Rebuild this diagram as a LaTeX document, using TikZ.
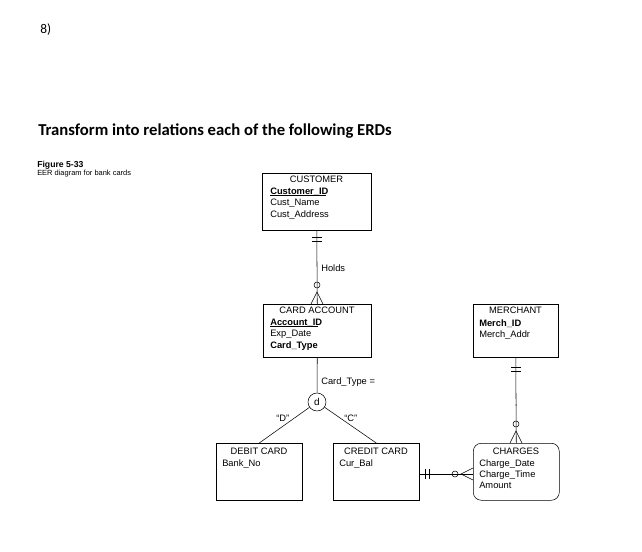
\documentclass[tikz,border=0pt]{standalone}
\usepackage{fontspec}
\setmainfont{Liberation Sans}
\newfontfamily\titlefont{Carlito}
\usetikzlibrary{positioning}
\tikzset{
  ent/.style={draw,thin,anchor=north west,inner sep=0pt},
  att/.style={anchor=north west,inner sep=0pt,font=\fontsize{7}{8.4}\selectfont,align=left},
  ttl/.style={anchor=north,inner sep=0pt,font=\fontsize{7}{8.4}\selectfont},
  rel/.style={thin},
}
\begin{document}
\begin{tikzpicture}[x=0.75pt,y=-0.75pt]
\useasboundingbox (0,0) rectangle (642,552);
% heading
\node[anchor=west,inner sep=0pt,font=\titlefont\fontsize{10}{12}\selectfont] (num) at (40,30) {8)};
\node[anchor=west,inner sep=0pt,font=\titlefont\bfseries\fontsize{12.5}{14}\selectfont] (task) at (38,131) {Transform into relations each of the following ERDs};
\node[anchor=north west,inner sep=0pt,font=\bfseries\fontsize{6.5}{7}\selectfont] (fig) at (37,161) {Figure 5-33};
\node[anchor=north west,inner sep=0pt,font=\fontsize{5.6}{7}\selectfont] (cap) at (37,170) {EER diagram for bank cards};
% entities
\node[ent,minimum width=81.75pt,minimum height=42.75pt] (cust) at (262,173) {};
\node[ttl] (custT) at (316.5,176) {CUSTOMER};
\node[att] (custA) at (270,188) {\textbf{Customer\_ID}\\Cust\_Name\\Cust\_Address};
\draw[thin] (270,195.5) -- (326,195.5);
\node[ent,minimum width=81pt,minimum height=39.75pt] (acct) at (263,304) {};
\node[ttl] (acctT) at (317,307) {CARD ACCOUNT};
\node[att] (acctA) at (270,319) {\textbf{Account\_ID}\\Exp\_Date\\\textbf{Card\_Type}};
\draw[thin] (270,326.5) -- (318,326.5);
\node[ent,minimum width=63.75pt,minimum height=39.75pt] (merch) at (473,304) {};
\node[ttl] (merchT) at (515.5,307) {MERCHANT};
\node[att] (merchA) at (479,319) {\textbf{Merch\_ID}\\Merch\_Addr};
\node[ent,minimum width=64.5pt,minimum height=42.75pt] (debit) at (216,443) {};
\node[ttl] (debitT) at (259,448) {DEBIT CARD};
\node[att] (debitA) at (222,459) {Bank\_No};
\node[ent,minimum width=64.5pt,minimum height=42.75pt] (credit) at (333,443) {};
\node[ttl] (creditT) at (376,448) {CREDIT CARD};
\node[att] (creditA) at (339,459) {Cur\_Bal};
\node[ent,rounded corners=6pt,minimum width=64.5pt,minimum height=42.75pt] (chg) at (473,443) {};
\node[ttl] (chgT) at (516,448) {CHARGES};
\node[att] (chgA) at (479,459) {Charge\_Date\\Charge\_Time\\Amount};
% disjoint subtype circle
\node[draw,circle,thin,minimum size=13.5pt,inner sep=0pt,font=\fontsize{7.5}{8}\selectfont] (d) at (317,402) {d};
% Holds
\draw[rel] (cust.south) -- (acct.north);
\draw[rel] (312,237) -- (322,237) (312,241) -- (322,241);
\draw[rel] (317,285) circle (3);
\draw[rel] (311,304) -- (317,292) -- (323,304);
\node[att] (holds) at (321,264) {Holds};
% subtype
\draw[rel] (acct.south) -- (d);
\node[att] (ctype) at (321,377) {Card\_Type =};
\draw[rel] (d) -- (debit.north);
\draw[rel] (d) -- (credit.north);
\node[att] (dlab) at (276,415) {``D''};
\node[att] (clab) at (344,415) {``C''};
% merchant - charges
\draw[rel] (merch.south) -- (chg.north);
\draw[rel] (511,367) -- (521,367) (511,371) -- (521,371);
\fill (516,405) circle (0.6);
\draw[rel] (516,424) circle (3);
\draw[rel] (510,443) -- (516,431) -- (522,443);
% credit - charges
\draw[rel] (credit.east |- 0,474) coordinate (ce) -- (chg.west |- 0,474) coordinate (cw);
\draw[rel] (425,469) -- (425,479) (429,469) -- (429,479);
\draw[rel] (455,474) circle (3);
\draw[rel] (473,468) -- (461,474) -- (473,480);
\end{tikzpicture}
\end{document}
